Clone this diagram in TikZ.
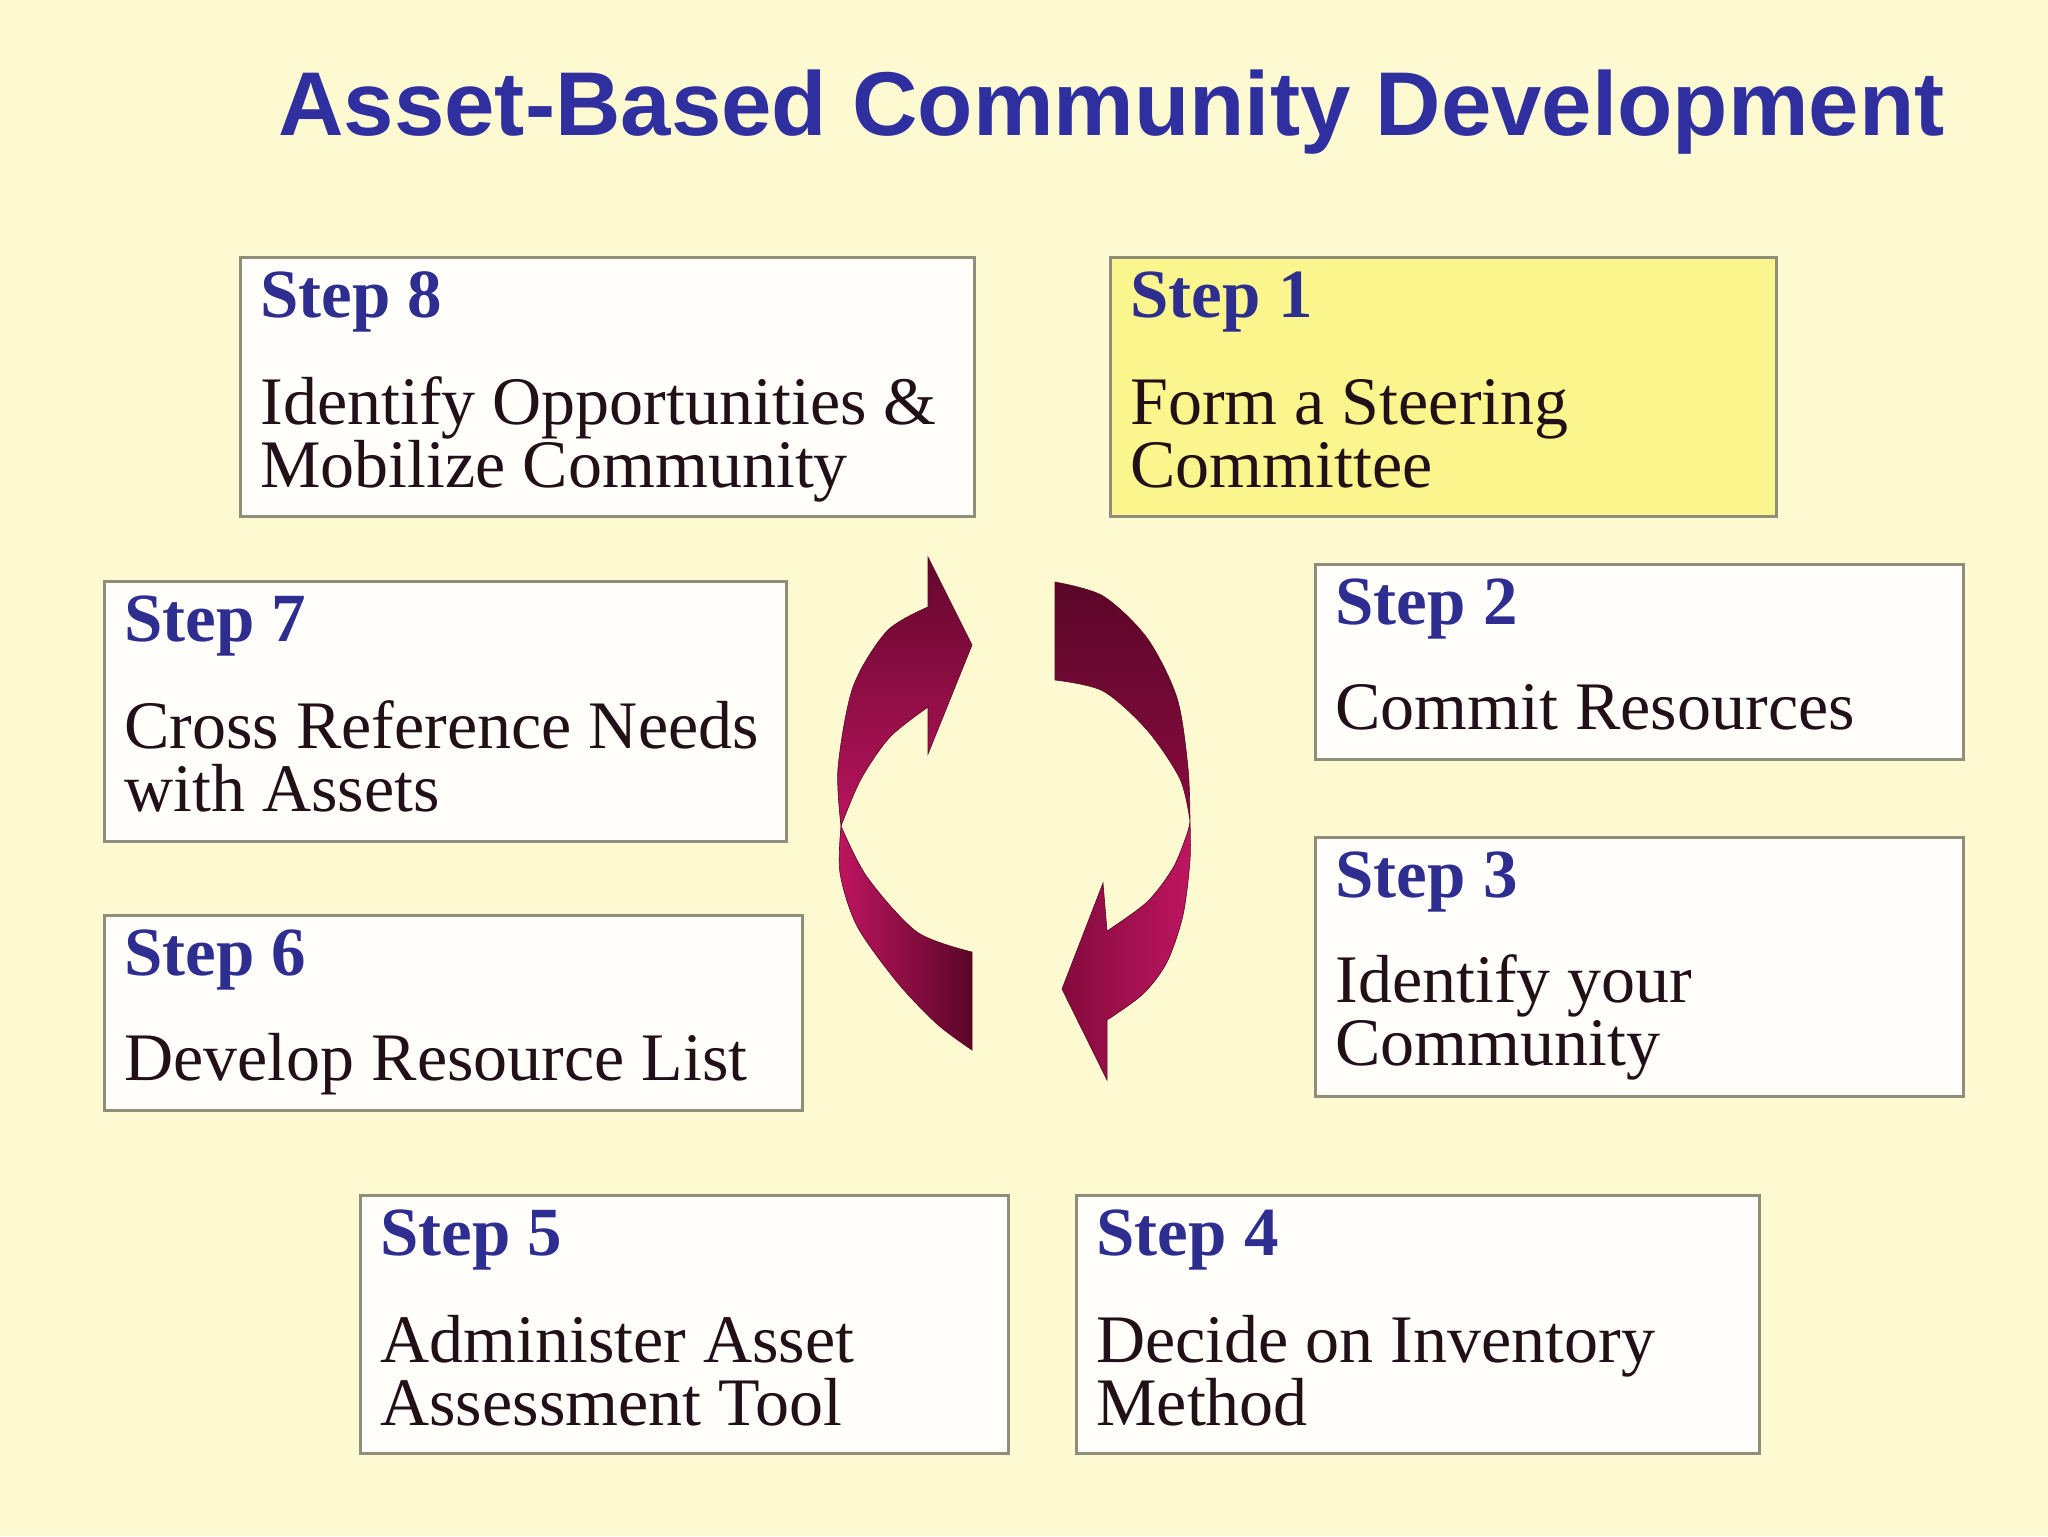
\documentclass[tikz,border=0pt]{standalone}
\usepackage{fontspec}
\setmainfont{Liberation Serif}
\newfontfamily\titlefont{Liberation Sans}
\usetikzlibrary{calc}
\definecolor{bg}{HTML}{FDFAD2}
\definecolor{titleblue}{HTML}{2F2FA0}
\definecolor{stepblue}{HTML}{2E2E90}
\definecolor{bodyink}{HTML}{221018}
\definecolor{boxline}{HTML}{8E8E7A}
\definecolor{boxfill}{HTML}{FFFEFB}
\definecolor{hilite}{HTML}{FAF58C}
\definecolor{rdark}{HTML}{5A0627}
\definecolor{rmid}{HTML}{8A0C40}
\definecolor{rbright}{HTML}{BE1560}
\tikzset{
  stepbox/.style={draw=boxline, line width=1.3pt, fill=boxfill, rectangle, inner sep=0pt, anchor=north west},
  steplabel/.style={anchor=base west, inner sep=0pt, text=stepblue, font=\fontsize{34.5}{35}\selectfont\bfseries},
  bodytext/.style={anchor=base west, inner sep=0pt, text=bodyink, font=\fontsize{34}{34}\selectfont},
  ribbon/.style={draw=rdark, line width=0.3pt}
}
\begin{document}
\begin{tikzpicture}[x=0.5pt,y=-0.5pt]
\fill[bg] (0,0) rectangle (2048,1536);
\useasboundingbox (0,0) rectangle (2048,1536);

\node[anchor=base west, inner sep=0pt, text=titleblue, font=\titlefont\bfseries\fontsize{45.3}{46}\selectfont] (title) at (278,135) {Asset-Based Community Development};

% Step 8
\node[stepbox, minimum width={734*0.5pt}, minimum height={259*0.5pt}] (s8) at (239,256) {};
\node[steplabel] (s8h) at ($(s8.north west)+(21,61)$) {Step 8};
\node[bodytext] (s8a) at ($(s8.north west)+(21,168)$) {Identify Opportunities \&};
\node[bodytext] (s8b) at ($(s8.north west)+(21,231)$) {Mobilize Community};

% Step 1
\node[stepbox, fill=hilite, minimum width={666*0.5pt}, minimum height={259*0.5pt}] (s1) at (1109,256) {};
\node[steplabel] (s1h) at ($(s1.north west)+(21,61)$) {Step 1};
\node[bodytext] (s1a) at ($(s1.north west)+(21,168)$) {Form a Steering};
\node[bodytext] (s1b) at ($(s1.north west)+(21,231)$) {Committee};

% Step 7
\node[stepbox, minimum width={682*0.5pt}, minimum height={260*0.5pt}] (s7) at (103,580) {};
\node[steplabel] (s7h) at ($(s7.north west)+(21,61)$) {Step 7};
\node[bodytext] (s7a) at ($(s7.north west)+(21,168)$) {Cross Reference Needs};
\node[bodytext] (s7b) at ($(s7.north west)+(21,231)$) {with Assets};

% Step 2
\node[stepbox, minimum width={648*0.5pt}, minimum height={195*0.5pt}] (s2) at (1314,563) {};
\node[steplabel] (s2h) at ($(s2.north west)+(21,61)$) {Step 2};
\node[bodytext] (s2a) at ($(s2.north west)+(21,166)$) {Commit Resources};

% Step 3
\node[stepbox, minimum width={648*0.5pt}, minimum height={259*0.5pt}] (s3) at (1314,836) {};
\node[steplabel] (s3h) at ($(s3.north west)+(21,61)$) {Step 3};
\node[bodytext] (s3a) at ($(s3.north west)+(21,166)$) {Identify your};
\node[bodytext] (s3b) at ($(s3.north west)+(21,229)$) {Community};

% Step 6
\node[stepbox, minimum width={698*0.5pt}, minimum height={195*0.5pt}] (s6) at (103,914) {};
\node[steplabel] (s6h) at ($(s6.north west)+(21,61)$) {Step 6};
\node[bodytext] (s6a) at ($(s6.north west)+(21,166)$) {Develop Resource List};

% Step 5
\node[stepbox, minimum width={648*0.5pt}, minimum height={258*0.5pt}] (s5) at (359,1194) {};
\node[steplabel] (s5h) at ($(s5.north west)+(21,61)$) {Step 5};
\node[bodytext] (s5a) at ($(s5.north west)+(21,168)$) {Administer Asset};
\node[bodytext] (s5b) at ($(s5.north west)+(21,231)$) {Assessment Tool};

% Step 4
\node[stepbox, minimum width={683*0.5pt}, minimum height={258*0.5pt}] (s4) at (1075,1194) {};
\node[steplabel] (s4h) at ($(s4.north west)+(21,61)$) {Step 4};
\node[bodytext] (s4a) at ($(s4.north west)+(21,168)$) {Decide on Inventory};
\node[bodytext] (s4b) at ($(s4.north west)+(21,231)$) {Method};

% Left ribbon, upper part with head
\shade[ribbon, top color=rdark!80!rmid, bottom color=rbright!90!rmid]
  (928,607) -- (928,557) -- (972,645) -- (928,754) -- (928,707)
  -- plot[smooth] coordinates {(928,707) (890,737) (861,779) (841,826)}
  -- plot[smooth] coordinates {(841,826) (838,768) (853,687) (887,631) (928,607)}
  -- cycle;
% Left ribbon, lower part
\shade[ribbon, left color=rbright, right color=rdark]
  plot[smooth] coordinates {(841,826) (840,873) (857,926) (897,982) (937,1024) (972,1050)}
  -- (972,952)
  -- plot[smooth] coordinates {(972,952) (917,932) (867,877) (841,826)}
  -- cycle;
% Right ribbon, upper part
\shade[ribbon, top color=rdark, bottom color=rmid]
  (1055,582) -- (1055,680)
  -- plot[smooth] coordinates {(1055,680) (1103,691) (1147,730) (1180,779) (1190,821)}
  -- plot[smooth] coordinates {(1190,821) (1188,768) (1177,698) (1147,638) (1103,596) (1055,582)}
  -- cycle;
% Right ribbon, lower part with head
\shade[ribbon, right color=rbright, left color=rmid!85!rdark]
  plot[smooth] coordinates {(1190,821) (1190,860) (1183,915) (1167,962) (1143,994) (1107,1020)}
  -- (1107,1080) -- (1062,989) -- (1103,883) -- (1107,931)
  -- plot[smooth] coordinates {(1107,931) (1147,902) (1173,868) (1187,834) (1190,821)}
  -- cycle;
\end{tikzpicture}
\end{document}
